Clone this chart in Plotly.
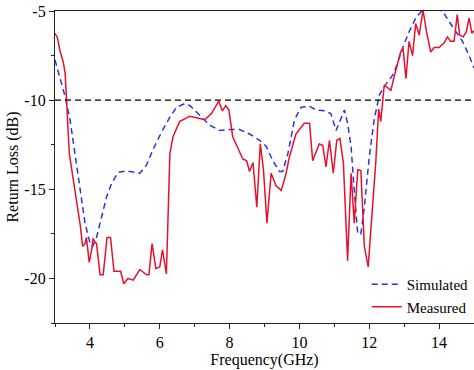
import plotly.graph_objects as go

# Simulated (blue dashed)
sim_freq = [3.0, 3.14, 3.29, 3.43, 3.57, 3.71, 3.86, 4.0, 4.08, 4.19, 4.33, 4.48, 4.62, 4.81, 5.05,
            5.24, 5.43, 5.62, 5.8, 6.05, 6.29, 6.48, 6.71, 6.86, 7.14, 7.43, 7.71, 7.95, 8.29, 8.57,
            8.86, 9.05, 9.24, 9.43, 9.52, 9.67, 9.86, 10.05, 10.29, 10.48, 10.71, 10.9, 11.05, 11.14,
            11.29, 11.38, 11.48, 11.57, 11.67, 11.76, 11.86, 12.0, 12.14, 12.29, 12.48, 12.67, 12.76,
            12.95, 13.14, 13.33, 13.48, 13.6, 13.8, 14.0, 14.1, 14.29, 14.48, 14.67, 14.86, 15.0]
sim_rl = [-7.75, -8.7, -9.8, -11.1, -13.0, -15.06, -16.9, -18.0, -18.2, -17.7, -16.55, -15.4, -14.67,
          -14.05, -13.97, -14.05, -14.1, -13.65, -12.8, -11.8, -10.95, -10.4, -10.2, -10.3, -10.85,
          -11.4, -11.7, -11.65, -11.65, -11.9, -12.25, -12.6, -13.4, -14.0, -14.0, -13.0, -11.1,
          -10.4, -10.35, -10.55, -10.6, -10.75, -11.7, -11.3, -10.55, -11.3, -12.6, -15.06, -17.5,
          -17.5, -16.0, -13.2, -11.1, -9.7, -9.1, -8.6, -8.2, -7.1, -6.16, -5.4, -5.04, -4.9, -4.9,
          -4.95, -5.0, -5.6, -6.16, -6.7, -7.5, -8.2]

# Measured (red solid)
meas_freq = [3.0, 3.07, 3.14, 3.24, 3.29, 3.33, 3.38, 3.41, 3.48, 3.57, 3.67, 3.73, 3.79, 3.86, 3.9,
             3.98, 4.05, 4.09, 4.14, 4.19, 4.29, 4.38, 4.49, 4.59, 4.69, 4.88, 4.97, 5.09, 5.24, 5.43,
             5.62, 5.69, 5.78, 5.89, 6.0, 6.08, 6.19, 6.29, 6.38, 6.57, 6.86, 7.05, 7.29, 7.48, 7.69,
             7.79, 7.89, 7.98, 8.09, 8.24, 8.38, 8.49, 8.57, 8.67, 8.78, 8.88, 8.97, 9.07, 9.19, 9.33,
             9.48, 9.62, 9.71, 9.9, 10.14, 10.29, 10.38, 10.57, 10.67, 10.76, 10.86, 10.97, 11.07,
             11.16, 11.26, 11.38, 11.48, 11.57, 11.67, 11.76, 11.86, 11.97, 12.09, 12.19, 12.27,
             12.33, 12.43, 12.49, 12.62, 12.71, 12.81, 12.9, 12.97, 13.05, 13.14, 13.24, 13.33,
             13.43, 13.54, 13.64, 13.76, 13.86, 14.0, 14.14, 14.24, 14.33, 14.43, 14.52, 14.59,
             14.69, 14.78, 14.86, 14.94, 15.0]
meas_rl = [-6.25, -6.5, -7.2, -7.9, -8.5, -10.0, -11.5, -13.0, -13.9, -15.06, -16.2, -17.1, -18.2,
           -18.05, -17.7, -19.1, -18.4, -17.75, -17.95, -18.05, -19.8, -19.8, -17.7, -17.7, -19.6,
           -19.6, -20.3, -20.0, -20.1, -19.5, -19.8, -19.8, -18.05, -19.45, -19.35, -18.4, -19.75,
           -13.0, -12.05, -11.2, -10.9, -10.97, -11.1, -10.75, -10.05, -10.6, -10.3, -10.55, -12.05,
           -12.7, -13.3, -13.4, -14.0, -13.5, -16.0, -12.45, -13.9, -16.9, -14.1, -14.8, -15.06,
           -14.1, -13.2, -11.9, -11.3, -11.3, -13.4, -12.45, -12.55, -13.75, -12.25, -14.1, -12.25,
           -12.15, -13.55, -19.0, -14.1, -16.9, -13.9, -13.95, -18.2, -19.35, -16.2, -13.4, -10.5,
           -11.2, -9.15, -9.25, -9.45, -8.7, -8.0, -7.3, -7.1, -8.8, -6.7, -7.5, -5.7, -6.35, -4.95,
           -6.16, -7.3, -7.05, -7.05, -6.8, -6.45, -6.7, -6.7, -5.2, -6.35, -6.45, -6.16, -5.4,
           -6.25, -6.1]

threshold_db = -10
x_ticks = [4, 6, 8, 10, 12, 14]
y_ticks = [-20, -15, -10, -5]

font_family = "Liberation Serif"

fig = go.Figure()
fig.add_trace(go.Scatter(x=sim_freq, y=sim_rl, mode="lines", name="Simulated",
                         line=dict(color="#2a35e0", width=1.5, dash="6px,4px")))
fig.add_trace(go.Scatter(x=meas_freq, y=meas_rl, mode="lines", name="Measured",
                         line=dict(color="#e8102a", width=1.5)))

fig.add_shape(type="line", xref="paper", x0=0, x1=1, yref="y", y0=threshold_db, y1=threshold_db,
              line=dict(color="black", width=1.2, dash="6px,4px"))

fig.update_layout(
    width=474, height=370,
    margin=dict(l=55, r=0, t=11, b=47, autoexpand=False),
    paper_bgcolor="white", plot_bgcolor="white",
    font=dict(family=font_family, size=16, color="black"),
    showlegend=True,
    legend=dict(x=0.744, y=0.0, xanchor="left", yanchor="bottom",
                bgcolor="rgba(0,0,0,0)", font=dict(size=15, family=font_family, color="black"),
                tracegroupgap=0),
)
fig.update_xaxes(range=[3, 15], tickvals=x_ticks, ticks="outside", ticklen=5, tickwidth=1,
                 tickcolor="#222", showline=True, linecolor="#222", linewidth=1.2, mirror=True,
                 showgrid=False, zeroline=False, automargin=False,
                 minor=dict(tickvals=[3, 5, 7, 9, 11, 13, 15], ticks="outside", ticklen=3, tickcolor="#222"),
                 title=dict(text="Frequency(GHz)", standoff=3, font=dict(size=16)))
fig.update_yaxes(range=[-22.5, -5], tickvals=y_ticks, ticktext=[str(v) for v in y_ticks],
                 ticks="outside", ticklen=5, tickwidth=1,
                 tickcolor="#222", showline=True, linecolor="#222", linewidth=1.2, mirror=True,
                 showgrid=False, zeroline=False, automargin=False,
                 minor=dict(tickvals=[-22.5, -17.5, -12.5, -7.5], ticks="outside", ticklen=3, tickcolor="#222"),
                 title=dict(text="Return Loss (dB)", standoff=1, font=dict(size=16)))

fig.write_html("out.html", config={"displayModeBar": False},
               post_script="document.body.style.margin='0';document.body.style.overflow='hidden';")
